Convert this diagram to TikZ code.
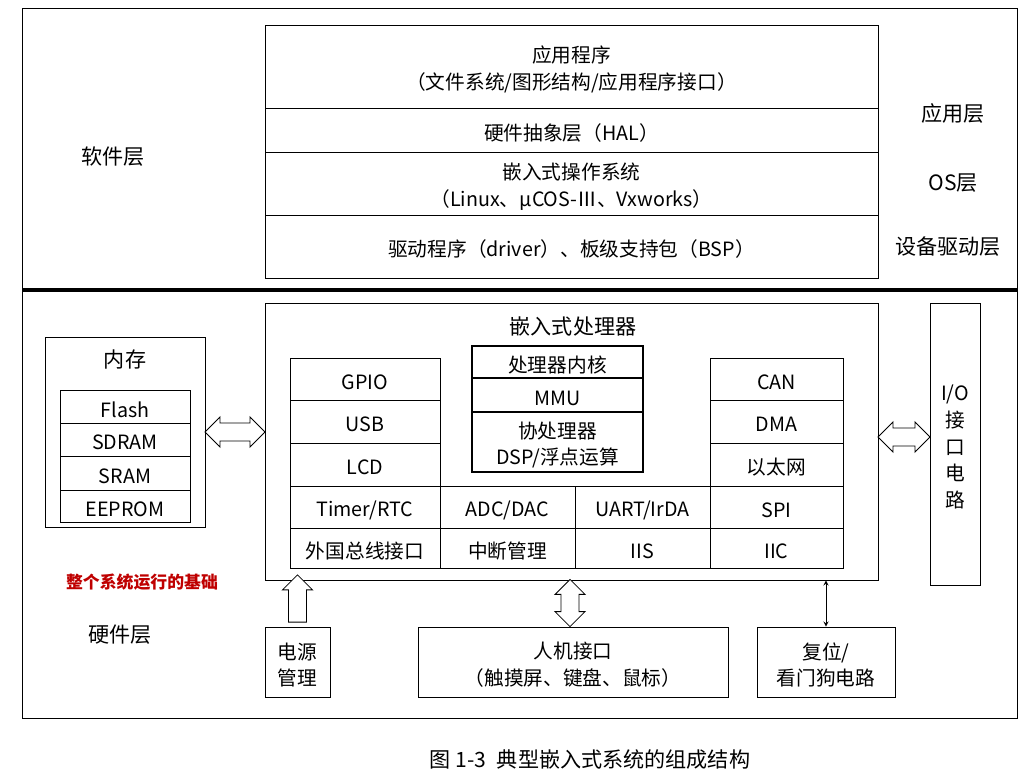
\documentclass[tikz,border=0pt]{standalone}
\usepackage{fontspec}
\newfontfamily\cjk{Noto Sans CJK SC}
\usetikzlibrary{fit, calc, shapes.arrows}

\tikzset{
  box/.style={draw, semithick, inner sep=0pt},
  txt/.style={align=center, inner sep=0pt, font=\cjk\fontsize{14}{19}\selectfont},
  lbl/.style={font=\cjk\fontsize{15}{20}\selectfont, align=center},
  hollow/.style={draw, semithick, fill=white, inner xsep=0pt, inner ysep=0.17cm, minimum width=0.75cm}
}
% cell from corner to corner, pixel units
\newcommand{\cell}[6]{\node[box, fit={(#2,#3)(#4,#5)}] (#1) {};
  \node[txt] (#1-t) at ($(#1.center)+(0,3)$) {#6};}

\begin{document}
\begin{tikzpicture}[x=0.025cm, y=-0.025cm]
	\useasboundingbox (0,0) rectangle (1033,781);
	% frame
	\draw[semithick] (22,8) rectangle (1017,718);
	\draw[line width=3pt] (22,290) -- (1017,290);
	
	% software stack
	\cell{app}{265}{25}{878}{108}{应用程序\\（文件系统/图形结构/应用程序接口）}
	\cell{hal}{265}{108}{878}{152}{硬件抽象层（HAL）}
	\cell{os}{265}{152}{878}{215}{嵌入式操作系统\\（Linux、μCOS-Ⅲ、Vxworks）}
	\cell{drv}{265}{215}{878}{278}{驱动程序（driver）、板级支持包（BSP）}
	\node[lbl] (sw) at (113,157) {软件层};
	\node[lbl] (lapp) at (953,113) {应用层};
	\node[lbl] (los) at (953,183) {OS层};
	\node[lbl] (ldrv) at (948,247) {设备驱动层};
	
	% processor
	\node[draw, semithick, fit={(265,303)(878,580)}, inner sep=0pt] (proc) {};
	\node[lbl] (ptitle) at (573,326) {嵌入式处理器};
	\cell{gpio}{290}{358}{440}{400}{GPIO}
	\cell{usb}{290}{400}{440}{443}{USB}
	\cell{lcd}{290}{443}{440}{486}{LCD}
	\cell{can}{710}{358}{843}{400}{CAN}
	\cell{dma}{710}{400}{843}{443}{DMA}
	\cell{eth}{710}{443}{843}{486}{以太网}
	\begin{scope}[box/.append style={thick}]
	\cell{core}{472}{346}{643}{378}{处理器内核}
	\cell{mmu}{472}{378}{643}{412}{MMU}
	\cell{dsp}{472}{412}{643}{472}{协处理器\\DSP/浮点运算}
	\end{scope}
	\cell{timer}{290}{486}{440}{528}{Timer/RTC}
	\cell{adc}{440}{486}{575}{528}{ADC/DAC}
	\cell{uart}{575}{486}{710}{528}{UART/IrDA}
	\cell{spi}{710}{486}{843}{528}{SPI}
	\cell{bus}{290}{528}{440}{568}{外国总线接口}
	\cell{irq}{440}{528}{575}{568}{中断管理}
	\cell{iis}{575}{528}{710}{568}{IIS}
	\cell{iic}{710}{528}{843}{568}{IIC}
	
	% memory
	\node[draw, semithick, fit={(45,337)(205,527)}, inner sep=0pt] (mem) {};
	\node[lbl] (mtitle) at (125,360) {内存};
	\cell{flash}{60}{390}{190}{423}{Flash}
	\cell{sdram}{60}{423}{190}{456}{SDRAM}
	\cell{sram}{60}{456}{190}{490}{SRAM}
	\cell{eeprom}{60}{490}{190}{522}{EEPROM}
	
	% I/O
	\cell{io}{930}{303}{980}{585}{I/O\\接\\口\\电\\路}
	
	% bottom boxes
	\cell{pwr}{265}{627}{330}{697}{电源\\管理}
	\cell{hmi}{418}{627}{728}{697}{人机接口\\（触摸屏、键盘、鼠标）}
	\cell{rst}{757}{627}{895}{697}{复位/\\看门狗电路}
	
	\node[font=\cjk\bfseries\fontsize{12}{14}\selectfont, text=red!75!black] (base) at (142,582) {整个系统运行的基础};
	\node[lbl] (hw) at (120,635) {硬件层};
	
	% connectors
	\node[hollow, double arrow, double arrow head extend=0.12cm, minimum height=1.5cm] (a1) at ($(mem.east)!0.5!(mem.east -| proc.west)$) {};
	\node[hollow, double arrow, double arrow head extend=0.12cm, minimum height=1.3cm] (a2) at (904,437) {};
	\node[hollow, single arrow, single arrow head extend=0.12cm, minimum height=1.18cm, rotate=90] (a3) at (pwr.north |- 0,603) {};
	\node[hollow, double arrow, double arrow head extend=0.12cm, minimum height=1.18cm, rotate=90] (a4) at (570,603) {};
	\draw[<->, >=stealth, semithick] (rst.north) -- (rst.north |- proc.south);
	
	\node[font=\cjk\fontsize{15}{18}\selectfont] (cap) at (590,760) {图 1-3\enspace 典型嵌入式系统的组成结构};
\end{tikzpicture}
\end{document}
